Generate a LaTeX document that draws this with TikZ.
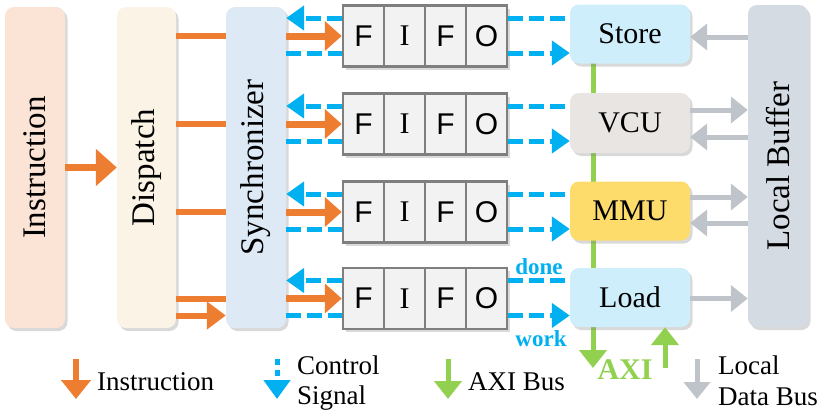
\documentclass[tikz,border=0pt]{standalone}
\usepackage{fontspec}
\usepackage{graphicx}
\setmainfont{Liberation Serif}
\newfontfamily\fifosans{Liberation Sans}
\usetikzlibrary{arrows.meta,shadows,calc}
\definecolor{cOrange}{HTML}{ED7D31}
\definecolor{cBlue}{HTML}{00B0F0}
\definecolor{cGreen}{HTML}{92D050}
\definecolor{cGray}{HTML}{BFC4CA}
\definecolor{fInstr}{HTML}{FBE3D6}
\definecolor{fDisp}{HTML}{FBF4E6}
\definecolor{fSync}{HTML}{DDEAF6}
\definecolor{fLight}{HTML}{CFEEFB}
\definecolor{fVCU}{HTML}{E8E5E3}
\definecolor{fMMU}{HTML}{FDDC6C}
\definecolor{fLB}{HTML}{D5DBE2}
\definecolor{fFifo}{HTML}{F2F2F2}
\definecolor{cFifoLine}{HTML}{7F7F7F}
\pgfdeclarelayer{background}
\pgfsetlayers{background,main}
\tikzset{
  myshadow/.style={drop shadow={shadow xshift=2.5pt,shadow yshift=-3pt,opacity=0.3}},
  tallbox/.style={rounded corners=9pt, minimum width=60pt, minimum height=321pt, inner sep=0pt, myshadow, font=\fontsize{33}{33}\selectfont},
  unitbox/.style={rounded corners=9pt, fill=fLight, minimum width=120pt, minimum height=59pt, inner sep=0pt, myshadow, font=\fontsize{30}{30}\selectfont},
  fifobox/.style={minimum width=164pt, minimum height=61pt, inner sep=0pt, fill=fFifo, myshadow},
  cell/.style={draw=cFifoLine, line width=2.5pt, fill=fFifo, minimum width=41pt, minimum height=61pt, inner sep=0pt, font=\fifosans\fontsize{30}{30}\selectfont},
  instr/.style={draw=cOrange, line width=7pt},
  instrarrow/.style={instr, -{Triangle[length=17pt,width=29pt]}},
  ctrl/.style={draw=cBlue, line width=5pt, dash pattern=on 15pt off 6pt},
  ctrlarrow/.style={ctrl, -{Triangle[length=18pt,width=24pt]}},
  axiarrow/.style={draw=cGreen, line width=5pt, -{Triangle[length=18pt,width=27pt]}},
  lbus/.style={draw=cGray, line width=5pt, -{Triangle[length=17pt,width=26pt]}},
  lgtext/.style={font=\fontsize{27}{27}\selectfont, anchor=west, inner sep=0pt},
  sig/.style={text=cBlue, inner sep=0pt, font=\bfseries\fontsize{23}{23}\selectfont}
}
\begin{document}
\begin{tikzpicture}[x=1pt,y=-1pt]
\useasboundingbox (0,0) rectangle (825,410);

% tall boxes
\node[tallbox, fill=fInstr] (instr) at (35,167.5) {\rotatebox{90}{Instruction}};
\node[tallbox, fill=fDisp, minimum width=59pt] (disp) at (146.5,167.5) {\rotatebox{90}{Dispatch}};
\node[tallbox, fill=fSync] (sync) at (256,167.5) {\rotatebox{90}{Synchronizer}};
\node[tallbox, fill=fLB, minimum height=322pt] (lb) at (778,166) {\rotatebox{90}{Local Buffer}};

% units
\node[unitbox] (u1) at (630,34) {Store};
\node[unitbox, fill=fVCU, minimum height=60pt] (u2) at (630,123) {VCU};
\node[unitbox, fill=fMMU] (u3) at (630,211) {MMU};
\node[unitbox] (u4) at (630,297.5) {Load};

% FIFOs
\foreach \i/\yy in {1/36,2/124,3/212,4/298.5}{
  \node[fifobox] (fifo\i) at (425,\yy) {};
  \node[cell] (f\i a) at (363.5,\yy) {F};
  \node[cell] (f\i b) at (404.5,\yy) {\rmfamily I};
  \node[cell] (f\i c) at (445.5,\yy) {F};
  \node[cell] (f\i d) at (486.5,\yy) {O};
}

% instruction flow
\draw[instr, -{Triangle[length=21pt,width=36pt]}] (instr.east) -- (disp.west);
\foreach \i in {1,2,3,4}{
  \draw[instr, line width=6pt] (disp.east |- f\i a.west) -- (sync.west |- f\i a.west);
  \draw[instrarrow] (sync.east |- f\i a.west) -- (f\i a.west);
  \draw[ctrlarrow] ($(f\i a.west)+(0,-18)$) -- ($(sync.east |- f\i a.west)+(0,-18)$);
  \draw[ctrl] ($(sync.east |- f\i a.west)+(0,17)$) -- ($(f\i a.west)+(0,17)$);
  \draw[ctrl] ($(f\i d.east)+(0,-18)$) -- ($(u\i.west |- f\i d.east)+(0,-18)$);
  \draw[ctrlarrow] ($(f\i d.east)+(0,17)$) -- ($(u\i.west |- f\i d.east)+(0,17)$);
}
\draw[instr, line width=6pt, -{Triangle[length=19pt,width=27pt]}] ($(disp.east |- f4a.west)+(0,17)$) -- ($(sync.west |- f4a.west)+(0,17)$);

% labels done / work
\node[sig] (done) at (539,267) {done};
\node[sig] (work) at (541,339) {work};

% local data bus
\draw[lbus] ($(lb.west |- u1.east)+(0,3)$) -- ($(u1.east)+(0,3)$);
\draw[lbus] ($(u2.east)+(0,-13)$) -- ($(lb.west |- u2.east)+(0,-13)$);
\draw[lbus] ($(lb.west |- u2.east)+(0,14)$) -- ($(u2.east)+(0,14)$);
\draw[lbus] ($(u3.east)+(0,-14)$) -- ($(lb.west |- u3.east)+(0,-14)$);
\draw[lbus] ($(lb.west |- u3.east)+(0,12)$) -- ($(u3.east)+(0,12)$);
\draw[lbus] ($(u4.east)+(0,1)$) -- ($(lb.west |- u4.east)+(0,1)$);

% AXI bus
\coordinate (axiend) at (593,368);
\coordinate (axistart) at (665,368);
\begin{pgfonlayer}{background}
\draw[axiarrow] (u1.center -| axiend) -- (axiend);
\end{pgfonlayer}
\draw[axiarrow] (axistart) -- (axistart |- u4.south);
\node[text=cGreen, inner sep=0pt, font=\bfseries\fontsize{30}{30}\selectfont] (axilbl) at (625,370) {AXI};

% legend
\coordinate (l1s) at (76,359); \coordinate (l1e) at (76,399);
\coordinate (l2s) at (277,359); \coordinate (l2e) at (277,399);
\coordinate (l3s) at (448,359); \coordinate (l3e) at (448,399);
\coordinate (l4s) at (697,359); \coordinate (l4e) at (697,399);
\draw[instr, line width=6pt, -{Triangle[length=19pt,width=29pt]}] (l1s) -- (l1e);
\draw[ctrl, dash pattern=on 6pt off 5pt, -{Triangle[length=19pt,width=26pt]}] (l2s) -- (l2e);
\draw[axiarrow] (l3s) -- (l3e);
\draw[lbus] (l4s) -- (l4e);
\node[lgtext] (lt1) at (97,382) {Instruction};
\node[lgtext] (lt2a) at (297,365) {Control};
\node[lgtext] (lt2b) at (297,398) {Signal};
\node[lgtext] (lt3) at (468,382) {AXI Bus};
\node[lgtext] (lt4a) at (718,365) {Local};
\node[lgtext] (lt4b) at (718,397) {Data Bus};
\end{tikzpicture}
\end{document}
